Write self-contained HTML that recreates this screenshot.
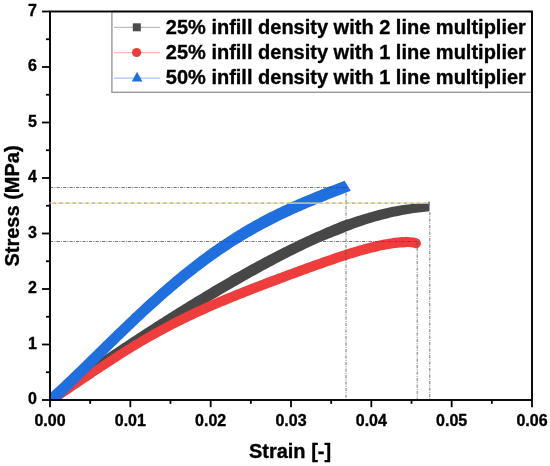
<!DOCTYPE html>
<html><head><meta charset="utf-8"><style>
html,body{margin:0;padding:0;background:#fff;}
svg{display:block;}
</style></head><body>
<svg width="550" height="466" viewBox="0 0 550 466" font-family="'Liberation Sans', Arial, Helvetica, sans-serif" fill="#000">
<style>text{stroke:#000;stroke-width:0.35px;}</style>
<rect width="550" height="466" fill="#fff"/>
<defs><clipPath id="pc"><rect x="50.0" y="11.5" width="482.0" height="388.5"/></clipPath></defs>
<g clip-path="url(#pc)" fill="none">
<path d="M40.00,401.54 L42.18,399.90 L44.35,398.27 L46.53,396.65 L48.70,395.03 L50.88,393.42 L53.06,391.81 L55.23,390.22 L57.41,388.63 L59.58,387.04 L61.76,385.47 L63.94,383.89 L66.11,382.33 L68.29,380.77 L70.46,379.21 L72.64,377.66 L74.82,376.12 L76.99,374.58 L79.17,373.05 L81.34,371.52 L83.52,370.00 L85.70,368.48 L87.87,366.97 L90.05,365.46 L92.22,363.95 L94.40,362.46 L96.58,360.96 L98.75,359.47 L100.93,357.99 L103.10,356.50 L105.28,355.03 L107.46,353.55 L109.63,352.08 L111.81,350.62 L113.98,349.16 L116.16,347.70 L118.34,346.25 L120.51,344.80 L122.69,343.35 L124.86,341.91 L127.04,340.47 L129.22,339.04 L131.39,337.61 L133.57,336.18 L135.74,334.76 L137.92,333.34 L140.09,331.92 L142.27,330.51 L144.45,329.10 L146.62,327.69 L148.80,326.29 L150.97,324.89 L153.15,323.49 L155.33,322.10 L157.50,320.71 L159.68,319.33 L161.85,317.94 L164.03,316.56 L166.21,315.19 L168.38,313.82 L170.56,312.45 L172.73,311.08 L174.91,309.72 L177.09,308.36 L179.26,307.00 L181.44,305.65 L183.61,304.30 L185.79,302.96 L187.97,301.62 L190.14,300.28 L192.32,298.95 L194.49,297.62 L196.67,296.29 L198.85,294.97 L201.02,293.65 L203.20,292.33 L205.37,291.02 L207.55,289.72 L209.73,288.41 L211.90,287.11 L214.08,285.82 L216.25,284.53 L218.43,283.24 L220.61,281.96 L222.78,280.68 L224.96,279.41 L227.13,278.14 L229.31,276.88 L231.49,275.62 L233.66,274.37 L235.84,273.12 L238.01,271.88 L240.19,270.64 L242.37,269.42 L244.54,268.21 L246.72,267.00 L248.89,265.80 L251.07,264.61 L253.25,263.42 L255.42,262.24 L257.60,261.06 L259.77,259.89 L261.95,258.73 L264.13,257.57 L266.30,256.42 L268.48,255.28 L270.65,254.14 L272.83,253.01 L275.01,251.89 L277.18,250.78 L279.36,249.67 L281.53,248.57 L283.71,247.48 L285.89,246.40 L288.06,245.32 L290.24,244.25 L292.41,243.19 L294.59,242.14 L296.77,241.10 L298.94,240.07 L301.12,239.04 L303.29,238.03 L305.47,237.02 L307.65,236.02 L309.82,235.03 L312.00,234.05 L314.17,233.08 L316.35,232.12 L318.53,231.17 L320.70,230.22 L322.88,229.24 L325.05,228.28 L327.23,227.33 L329.41,226.38 L331.58,225.45 L333.76,224.54 L335.93,223.63 L338.11,222.74 L340.28,221.87 L342.46,221.10 L344.64,220.35 L346.81,219.61 L348.99,218.89 L351.16,218.17 L353.34,217.48 L355.52,216.79 L357.69,216.12 L359.87,215.47 L362.04,214.78 L364.22,214.10 L366.40,213.44 L368.57,212.79 L370.75,212.16 L372.92,211.54 L375.10,210.94 L377.28,210.36 L379.45,209.80 L381.63,209.26 L383.80,208.75 L385.98,208.25 L388.16,207.77 L390.33,207.31 L392.51,206.87 L394.68,206.45 L396.86,206.05 L399.04,205.66 L401.21,205.31 L403.39,204.99 L405.56,204.69 L407.74,204.41 L409.92,204.15 L412.09,203.91 L414.27,203.70 L416.44,203.50 L418.62,203.33 L420.80,203.19 L422.97,203.08 L425.15,202.99 L427.32,202.92 L429.50,202.88 L429.50,211.28 L427.32,211.46 L425.15,211.66 L422.97,211.89 L420.80,212.14 L418.62,212.40 L416.44,212.68 L414.27,212.98 L412.09,213.31 L409.92,213.66 L407.74,214.02 L405.56,214.41 L403.39,214.82 L401.21,215.25 L399.04,215.69 L396.86,216.14 L394.68,216.61 L392.51,217.10 L390.33,217.60 L388.16,218.13 L385.98,218.67 L383.80,219.23 L381.63,219.81 L379.45,220.41 L377.28,221.00 L375.10,221.62 L372.92,222.25 L370.75,222.90 L368.57,223.56 L366.40,224.24 L364.22,224.94 L362.04,225.65 L359.87,226.38 L357.69,227.17 L355.52,227.99 L353.34,228.81 L351.16,229.65 L348.99,230.50 L346.81,231.37 L344.64,232.25 L342.46,233.14 L340.28,234.05 L338.11,234.88 L335.93,235.71 L333.76,236.55 L331.58,237.40 L329.41,238.27 L327.23,239.14 L325.05,240.03 L322.88,240.93 L320.70,241.84 L318.53,242.80 L316.35,243.78 L314.17,244.77 L312.00,245.77 L309.82,246.78 L307.65,247.80 L305.47,248.84 L303.29,249.88 L301.12,250.93 L298.94,251.99 L296.77,253.06 L294.59,254.14 L292.41,255.23 L290.24,256.32 L288.06,257.43 L285.89,258.54 L283.71,259.67 L281.53,260.80 L279.36,261.93 L277.18,263.08 L275.01,264.23 L272.83,265.39 L270.65,266.56 L268.48,267.73 L266.30,268.91 L264.13,270.10 L261.95,271.29 L259.77,272.49 L257.60,273.69 L255.42,274.90 L253.25,276.12 L251.07,277.34 L248.89,278.57 L246.72,279.80 L244.54,281.04 L242.37,282.29 L240.19,283.54 L238.01,284.78 L235.84,286.02 L233.66,287.27 L231.49,288.53 L229.31,289.79 L227.13,291.05 L224.96,292.32 L222.78,293.59 L220.61,294.87 L218.43,296.15 L216.25,297.44 L214.08,298.73 L211.90,300.03 L209.73,301.33 L207.55,302.63 L205.37,303.94 L203.20,305.25 L201.02,306.57 L198.85,307.89 L196.67,309.21 L194.49,310.54 L192.32,311.87 L190.14,313.21 L187.97,314.55 L185.79,315.89 L183.61,317.23 L181.44,318.58 L179.26,319.94 L177.09,321.29 L174.91,322.65 L172.73,324.02 L170.56,325.38 L168.38,326.75 L166.21,328.13 L164.03,329.50 L161.85,330.88 L159.68,332.27 L157.50,333.66 L155.33,335.05 L153.15,336.44 L150.97,337.84 L148.80,339.24 L146.62,340.64 L144.45,342.05 L142.27,343.46 L140.09,344.87 L137.92,346.29 L135.74,347.71 L133.57,349.14 L131.39,350.57 L129.22,352.00 L127.04,353.43 L124.86,354.87 L122.69,356.32 L120.51,357.76 L118.34,359.21 L116.16,360.67 L113.98,362.13 L111.81,363.59 L109.63,365.05 L107.46,366.52 L105.28,368.00 L103.10,369.48 L100.93,370.96 L98.75,372.45 L96.58,373.94 L94.40,375.43 L92.22,376.93 L90.05,378.44 L87.87,379.95 L85.70,381.46 L83.52,382.98 L81.34,384.50 L79.17,386.03 L76.99,387.57 L74.82,389.11 L72.64,390.65 L70.46,392.20 L68.29,393.76 L66.11,395.32 L63.94,396.89 L61.76,398.46 L59.58,400.04 L57.41,401.62 L55.23,403.22 L53.06,404.81 L50.88,406.42 L48.70,408.03 L46.53,409.65 L44.35,411.27 L42.18,412.90 L40.00,414.54 Z" fill="#474747"/>
<path d="M40.00,401.71 L42.31,400.36 L44.62,398.98 L46.92,397.58 L49.23,396.16 L51.54,394.72 L53.85,393.27 L56.16,391.79 L58.47,390.30 L60.77,388.80 L63.08,387.29 L65.39,385.76 L67.70,384.23 L70.01,382.68 L72.31,381.13 L74.62,379.58 L76.93,378.02 L79.24,376.45 L81.55,374.89 L83.86,373.32 L86.16,371.75 L88.47,370.19 L90.78,368.62 L93.09,367.06 L95.40,365.50 L97.70,363.95 L100.01,362.40 L102.32,360.85 L104.63,359.31 L106.94,357.78 L109.25,356.26 L111.55,354.74 L113.86,353.23 L116.17,351.73 L118.48,350.24 L120.79,348.76 L123.09,347.29 L125.40,345.84 L127.71,344.39 L130.02,342.95 L132.33,341.53 L134.64,340.11 L136.94,338.71 L139.25,337.33 L141.56,335.95 L143.87,334.59 L146.18,333.24 L148.48,331.90 L150.79,330.57 L153.10,329.26 L155.41,327.96 L157.72,326.68 L160.03,325.41 L162.33,324.15 L164.64,322.90 L166.95,321.67 L169.26,320.45 L171.57,319.24 L173.87,318.04 L176.18,316.86 L178.49,315.69 L180.80,314.53 L183.11,313.39 L185.42,312.25 L187.72,311.13 L190.03,310.02 L192.34,308.92 L194.65,307.83 L196.96,306.75 L199.26,305.68 L201.57,304.63 L203.88,303.58 L206.19,302.54 L208.50,301.52 L210.81,300.50 L213.11,299.49 L215.42,298.49 L217.73,297.50 L220.04,296.51 L222.35,295.54 L224.65,294.57 L226.96,293.61 L229.27,292.65 L231.58,291.70 L233.89,290.76 L236.19,289.83 L238.50,288.90 L240.81,287.98 L243.12,287.06 L245.43,286.14 L247.74,285.24 L250.04,284.33 L252.35,283.43 L254.66,282.54 L256.97,281.65 L259.28,280.76 L261.58,279.88 L263.89,279.00 L266.20,278.12 L268.51,277.24 L270.82,276.37 L273.13,275.50 L275.43,274.64 L277.74,273.77 L280.05,272.91 L282.36,272.05 L284.67,271.20 L286.97,270.34 L289.28,269.49 L291.59,268.64 L293.90,267.79 L296.21,266.94 L298.52,266.10 L300.82,265.26 L303.13,264.42 L305.44,263.58 L307.75,262.75 L310.06,261.92 L312.36,261.09 L314.67,260.27 L316.98,259.45 L319.29,258.63 L321.60,257.82 L323.91,257.01 L326.21,256.21 L328.52,255.42 L330.83,254.63 L333.14,253.84 L335.45,253.06 L337.75,252.29 L340.06,251.53 L342.37,250.78 L344.68,250.03 L346.99,249.30 L349.30,248.57 L351.60,247.86 L353.91,247.16 L356.22,246.47 L358.53,245.80 L360.84,245.14 L363.14,244.50 L365.45,243.87 L367.76,243.26 L370.07,242.67 L372.38,242.10 L374.69,241.55 L376.99,241.02 L379.30,240.52 L381.61,240.04 L383.92,239.59 L386.23,239.17 L388.53,238.77 L390.84,238.41 L393.15,238.08 L395.46,237.78 L397.77,237.52 L400.08,237.29 L402.38,237.10 L404.69,236.96 L407.00,236.86 L407.00,247.02 L404.69,247.14 L402.38,247.30 L400.08,247.50 L397.77,247.74 L395.46,248.02 L393.15,248.33 L390.84,248.68 L388.53,249.06 L386.23,249.47 L383.92,249.91 L381.61,250.37 L379.30,250.86 L376.99,251.38 L374.69,251.92 L372.38,252.48 L370.07,253.07 L367.76,253.67 L365.45,254.29 L363.14,254.93 L360.84,255.58 L358.53,256.26 L356.22,256.94 L353.91,257.64 L351.60,258.35 L349.30,259.08 L346.99,259.81 L344.68,260.56 L342.37,261.31 L340.06,262.08 L337.75,262.85 L335.45,263.63 L333.14,264.42 L330.83,265.21 L328.52,266.01 L326.21,266.82 L323.91,267.63 L321.60,268.45 L319.29,269.27 L316.98,270.09 L314.67,270.92 L312.36,271.75 L310.06,272.59 L307.75,273.43 L305.44,274.27 L303.13,275.11 L300.82,275.96 L298.52,276.81 L296.21,277.66 L293.90,278.51 L291.59,279.37 L289.28,280.22 L286.97,281.08 L284.67,281.94 L282.36,282.80 L280.05,283.67 L277.74,284.54 L275.43,285.41 L273.13,286.28 L270.82,287.15 L268.51,288.03 L266.20,288.91 L263.89,289.79 L261.58,290.67 L259.28,291.56 L256.97,292.45 L254.66,293.35 L252.35,294.24 L250.04,295.15 L247.74,296.05 L245.43,296.96 L243.12,297.88 L240.81,298.80 L238.50,299.73 L236.19,300.66 L233.89,301.59 L231.58,302.54 L229.27,303.49 L226.96,304.44 L224.65,305.40 L222.35,306.37 L220.04,307.35 L217.73,308.33 L215.42,309.33 L213.11,310.33 L210.81,311.34 L208.50,312.36 L206.19,313.38 L203.88,314.42 L201.57,315.47 L199.26,316.52 L196.96,317.59 L194.65,318.66 L192.34,319.75 L190.03,320.85 L187.72,321.96 L185.42,323.08 L183.11,324.21 L180.80,325.35 L178.49,326.51 L176.18,327.68 L173.87,328.86 L171.57,330.05 L169.26,331.25 L166.95,332.47 L164.64,333.70 L162.33,334.94 L160.03,336.20 L157.72,337.47 L155.41,338.75 L153.10,340.04 L150.79,341.35 L148.48,342.67 L146.18,344.00 L143.87,345.35 L141.56,346.70 L139.25,348.07 L136.94,349.45 L134.64,350.85 L132.33,352.26 L130.02,353.67 L127.71,355.10 L125.40,356.54 L123.09,358.00 L120.79,359.46 L118.48,360.93 L116.17,362.41 L113.86,363.90 L111.55,365.40 L109.25,366.91 L106.94,368.43 L104.63,369.95 L102.32,371.48 L100.01,373.01 L97.70,374.56 L95.40,376.10 L93.09,377.65 L90.78,379.20 L88.47,380.76 L86.16,382.32 L83.86,383.87 L81.55,385.43 L79.24,386.98 L76.93,388.54 L74.62,390.09 L72.31,391.63 L70.01,393.17 L67.70,394.70 L65.39,396.22 L63.08,397.74 L60.77,399.24 L58.47,400.73 L56.16,402.21 L53.85,403.67 L51.54,405.11 L49.23,406.54 L46.92,407.94 L44.62,409.33 L42.31,410.69 L40.00,412.02 Z" fill="#ef3c3c"/>
<path d="M402,242.23 Q412.00,241.36 416.00,243.30" stroke="#ef3c3c" stroke-width="9.9" stroke-linecap="round"/>
<path d="M40.00,402.11 L41.92,400.43 L43.83,398.73 L45.75,397.02 L47.66,395.30 L49.58,393.56 L51.49,391.81 L53.41,390.05 L55.33,388.28 L57.24,386.50 L59.16,384.71 L61.07,382.91 L62.99,381.10 L64.90,379.29 L66.82,377.47 L68.74,375.64 L70.65,373.80 L72.57,371.96 L74.48,370.11 L76.40,368.26 L78.31,366.40 L80.23,364.54 L82.15,362.68 L84.06,360.81 L85.98,358.94 L87.89,357.07 L89.81,355.19 L91.72,353.32 L93.64,351.44 L95.56,349.57 L97.47,347.69 L99.39,345.81 L101.30,343.94 L103.22,342.07 L105.13,340.19 L107.05,338.32 L108.97,336.45 L110.88,334.59 L112.80,332.73 L114.71,330.87 L116.63,329.01 L118.54,327.16 L120.46,325.32 L122.38,323.47 L124.29,321.64 L126.21,319.81 L128.12,317.98 L130.04,316.16 L131.95,314.35 L133.87,312.54 L135.79,310.74 L137.70,308.95 L139.62,307.17 L141.53,305.39 L143.45,303.62 L145.36,301.86 L147.28,300.11 L149.20,298.37 L151.11,296.63 L153.03,294.91 L154.94,293.19 L156.86,291.49 L158.77,289.79 L160.69,288.11 L162.61,286.43 L164.52,284.77 L166.44,283.12 L168.35,281.47 L170.27,279.84 L172.18,278.22 L174.10,276.61 L176.02,275.01 L177.93,273.43 L179.85,271.85 L181.76,270.29 L183.68,268.74 L185.59,267.20 L187.51,265.68 L189.43,264.16 L191.34,262.66 L193.26,261.18 L195.17,259.70 L197.09,258.24 L199.01,256.79 L200.92,255.35 L202.84,253.93 L204.75,252.52 L206.67,251.12 L208.58,249.74 L210.50,248.37 L212.42,247.01 L214.33,245.66 L216.25,244.33 L218.16,243.02 L220.08,241.71 L221.99,240.42 L223.91,239.14 L225.83,237.88 L227.74,236.63 L229.66,235.39 L231.57,234.17 L233.49,232.96 L235.40,231.76 L237.32,230.57 L239.24,229.40 L241.15,228.24 L243.07,227.10 L244.98,225.97 L246.90,224.85 L248.81,223.74 L250.73,222.64 L252.65,221.56 L254.56,220.49 L256.48,219.43 L258.39,218.39 L260.31,217.36 L262.22,216.34 L264.14,215.33 L266.06,214.33 L267.97,213.34 L269.89,212.37 L271.80,211.40 L273.72,210.45 L275.63,209.51 L277.55,208.58 L279.47,207.66 L281.38,206.75 L283.30,205.85 L285.21,204.96 L287.13,204.07 L289.04,203.20 L290.96,202.34 L292.88,201.49 L294.79,200.64 L296.71,199.81 L298.62,198.98 L300.54,198.16 L302.45,197.35 L304.37,196.54 L306.29,195.74 L308.20,194.95 L310.12,194.17 L312.03,193.39 L313.95,192.62 L315.86,191.85 L317.78,191.09 L319.70,190.34 L321.61,189.59 L323.53,188.84 L325.44,188.10 L327.36,187.36 L329.27,186.62 L331.19,185.89 L333.11,185.16 L335.02,184.43 L336.94,183.71 L338.85,182.98 L340.77,182.26 L342.68,181.54 L344.60,180.81 L350.80,190.67 L348.85,191.44 L346.89,192.20 L344.94,192.96 L342.98,193.73 L341.03,194.49 L339.07,195.25 L337.12,196.02 L335.16,196.78 L333.21,197.55 L331.25,198.32 L329.30,199.09 L327.34,199.87 L325.39,200.65 L323.43,201.43 L321.48,202.22 L319.52,203.01 L317.57,203.80 L315.62,204.61 L313.66,205.41 L311.71,206.23 L309.75,207.05 L307.80,207.87 L305.84,208.70 L303.89,209.54 L301.93,210.39 L299.98,211.25 L298.02,212.11 L296.07,212.98 L294.11,213.86 L292.16,214.75 L290.20,215.65 L288.25,216.56 L286.29,217.48 L284.34,218.40 L282.38,219.34 L280.43,220.29 L278.48,221.25 L276.52,222.22 L274.57,223.20 L272.61,224.19 L270.66,225.19 L268.70,226.21 L266.75,227.23 L264.79,228.27 L262.84,229.32 L260.88,230.38 L258.93,231.46 L256.97,232.54 L255.02,233.64 L253.06,234.75 L251.11,235.88 L249.15,237.02 L247.20,238.17 L245.25,239.33 L243.29,240.51 L241.34,241.70 L239.38,242.91 L237.43,244.12 L235.47,245.36 L233.52,246.60 L231.56,247.86 L229.61,249.13 L227.65,250.42 L225.70,251.72 L223.74,253.03 L221.79,254.36 L219.83,255.70 L217.88,257.06 L215.92,258.43 L213.97,259.81 L212.02,261.21 L210.06,262.62 L208.11,264.04 L206.15,265.48 L204.20,266.93 L202.24,268.40 L200.29,269.88 L198.33,271.37 L196.38,272.88 L194.42,274.40 L192.47,275.93 L190.51,277.48 L188.56,279.04 L186.60,280.61 L184.65,282.20 L182.69,283.79 L180.74,285.40 L178.78,287.03 L176.83,288.66 L174.88,290.31 L172.92,291.97 L170.97,293.64 L169.01,295.32 L167.06,297.02 L165.10,298.73 L163.15,300.44 L161.19,302.17 L159.24,303.91 L157.28,305.66 L155.33,307.42 L153.37,309.19 L151.42,310.97 L149.46,312.76 L147.51,314.56 L145.55,316.37 L143.60,318.18 L141.65,320.01 L139.69,321.84 L137.74,323.69 L135.78,325.54 L133.83,327.39 L131.87,329.26 L129.92,331.13 L127.96,333.01 L126.01,334.89 L124.05,336.78 L122.10,338.68 L120.14,340.58 L118.19,342.48 L116.23,344.40 L114.28,346.31 L112.32,348.23 L110.37,350.15 L108.42,352.08 L106.46,354.00 L104.51,355.93 L102.55,357.87 L100.60,359.80 L98.64,361.73 L96.69,363.67 L94.73,365.61 L92.78,367.54 L90.82,369.48 L88.87,371.41 L86.91,373.34 L84.96,375.27 L83.00,377.20 L81.05,379.12 L79.09,381.04 L77.14,382.96 L75.18,384.87 L73.23,386.78 L71.28,388.68 L69.32,390.58 L67.37,392.47 L65.41,394.35 L63.46,396.22 L61.50,398.09 L59.55,399.95 L57.59,401.79 L55.64,403.63 L53.68,405.46 L51.73,407.28 L49.77,409.08 L47.82,410.88 L45.86,412.66 L43.91,414.42 L41.95,416.18 L40.00,417.92 Z" fill="#1f6fde"/>
</g>
<g fill="none" stroke-width="0.75">
<line x1="50.0" y1="187.5" x2="347" y2="187.5" stroke="#4a4a4a" stroke-dasharray="3.2 1.2 0.9 1.2"/>
<line x1="346" y1="193" x2="346" y2="400.0" stroke="#4a4a4a" stroke-dasharray="3.2 1.2 0.9 1.2"/>
<line x1="50.0" y1="241.5" x2="417" y2="241.5" stroke="#4a4a4a" stroke-dasharray="3.2 1.2 0.9 1.2"/>
<line x1="417.2" y1="241.5" x2="417.2" y2="400.0" stroke="#4a4a4a" stroke-dasharray="3.2 1.2 0.9 1.2"/>
<line x1="51.0" y1="203.1" x2="429.5" y2="203.1" stroke="#efe36c" stroke-width="1.1"/>
<line x1="51.0" y1="203.1" x2="429.5" y2="203.1" stroke="#aca8f2" stroke-width="1.1" stroke-dasharray="3 3.5" stroke-dashoffset="-2"/>
<line x1="429.8" y1="212" x2="429.8" y2="400.0" stroke="#4a4a4a" stroke-dasharray="3.2 1.2 0.9 1.2"/>
<circle cx="429" cy="202.4" r="0.9" fill="#2f9a40"/><circle cx="428.9" cy="204.3" r="0.9" fill="#9040c0"/>
</g>
<rect x="111.9" y="11.5" width="420.1" height="80.8" fill="#fff" stroke="#9a9a9a" stroke-width="1.4"/>
<line x1="114" y1="27.3" x2="160" y2="27.3" stroke="#bcbcbc" stroke-width="1.2"/>
<rect x="132.8" y="23.3" width="8" height="8" fill="#4a4a4a"/>
<line x1="114" y1="52.7" x2="160" y2="52.7" stroke="#f9b8b8" stroke-width="1.3"/>
<circle cx="136.6" cy="52.5" r="4.6" fill="#ef3c3c"/>
<line x1="114" y1="78.2" x2="160" y2="78.2" stroke="#a4c4f6" stroke-width="1.2"/>
<path d="M137.1,71.8 L142.4,81.5 L131.8,81.5 Z" fill="#1f6fde"/>
<text x="165.8" y="33.9" font-size="20" font-weight="bold">25% infill density with 2 line multiplier</text>
<text x="165.8" y="59.1" font-size="20" font-weight="bold">25% infill density with 1 line multiplier</text>
<text x="165.8" y="84.4" font-size="20" font-weight="bold">50% infill density with 1 line multiplier</text>
<rect x="50.0" y="11.5" width="482.0" height="388.5" fill="none" stroke="#000" stroke-width="1.9"/>
<rect x="49.3" y="202" width="1.6" height="2.2" fill="#c060d8" opacity="0.8"/>
<line x1="42" y1="400.00" x2="50.0" y2="400.00" stroke="#000" stroke-width="1.8"/>
<text x="36.8" y="404.30" font-size="16" font-weight="bold" text-anchor="end">0</text>
<line x1="46" y1="372.25" x2="50.0" y2="372.25" stroke="#000" stroke-width="1.8"/>
<line x1="42" y1="344.50" x2="50.0" y2="344.50" stroke="#000" stroke-width="1.8"/>
<text x="36.8" y="348.80" font-size="16" font-weight="bold" text-anchor="end">1</text>
<line x1="46" y1="316.75" x2="50.0" y2="316.75" stroke="#000" stroke-width="1.8"/>
<line x1="42" y1="289.00" x2="50.0" y2="289.00" stroke="#000" stroke-width="1.8"/>
<text x="36.8" y="293.30" font-size="16" font-weight="bold" text-anchor="end">2</text>
<line x1="46" y1="261.25" x2="50.0" y2="261.25" stroke="#000" stroke-width="1.8"/>
<line x1="42" y1="233.50" x2="50.0" y2="233.50" stroke="#000" stroke-width="1.8"/>
<text x="36.8" y="237.80" font-size="16" font-weight="bold" text-anchor="end">3</text>
<line x1="46" y1="205.75" x2="50.0" y2="205.75" stroke="#000" stroke-width="1.8"/>
<line x1="42" y1="178.00" x2="50.0" y2="178.00" stroke="#000" stroke-width="1.8"/>
<text x="36.8" y="182.30" font-size="16" font-weight="bold" text-anchor="end">4</text>
<line x1="46" y1="150.25" x2="50.0" y2="150.25" stroke="#000" stroke-width="1.8"/>
<line x1="42" y1="122.50" x2="50.0" y2="122.50" stroke="#000" stroke-width="1.8"/>
<text x="36.8" y="126.80" font-size="16" font-weight="bold" text-anchor="end">5</text>
<line x1="46" y1="94.75" x2="50.0" y2="94.75" stroke="#000" stroke-width="1.8"/>
<line x1="42" y1="67.00" x2="50.0" y2="67.00" stroke="#000" stroke-width="1.8"/>
<text x="36.8" y="71.30" font-size="16" font-weight="bold" text-anchor="end">6</text>
<line x1="46" y1="39.25" x2="50.0" y2="39.25" stroke="#000" stroke-width="1.8"/>
<line x1="42" y1="11.50" x2="50.0" y2="11.50" stroke="#000" stroke-width="1.8"/>
<text x="36.8" y="15.80" font-size="16" font-weight="bold" text-anchor="end">7</text>
<line x1="50.00" y1="400.0" x2="50.00" y2="407.2" stroke="#000" stroke-width="1.8"/>
<text x="50.00" y="425.6" font-size="16" font-weight="bold" text-anchor="middle">0.00</text>
<line x1="90.17" y1="400.0" x2="90.17" y2="403.8" stroke="#000" stroke-width="1.8"/>
<line x1="130.33" y1="400.0" x2="130.33" y2="407.2" stroke="#000" stroke-width="1.8"/>
<text x="130.33" y="425.6" font-size="16" font-weight="bold" text-anchor="middle">0.01</text>
<line x1="170.50" y1="400.0" x2="170.50" y2="403.8" stroke="#000" stroke-width="1.8"/>
<line x1="210.67" y1="400.0" x2="210.67" y2="407.2" stroke="#000" stroke-width="1.8"/>
<text x="210.67" y="425.6" font-size="16" font-weight="bold" text-anchor="middle">0.02</text>
<line x1="250.83" y1="400.0" x2="250.83" y2="403.8" stroke="#000" stroke-width="1.8"/>
<line x1="291.00" y1="400.0" x2="291.00" y2="407.2" stroke="#000" stroke-width="1.8"/>
<text x="291.00" y="425.6" font-size="16" font-weight="bold" text-anchor="middle">0.03</text>
<line x1="331.17" y1="400.0" x2="331.17" y2="403.8" stroke="#000" stroke-width="1.8"/>
<line x1="371.33" y1="400.0" x2="371.33" y2="407.2" stroke="#000" stroke-width="1.8"/>
<text x="371.33" y="425.6" font-size="16" font-weight="bold" text-anchor="middle">0.04</text>
<line x1="411.50" y1="400.0" x2="411.50" y2="403.8" stroke="#000" stroke-width="1.8"/>
<line x1="451.67" y1="400.0" x2="451.67" y2="407.2" stroke="#000" stroke-width="1.8"/>
<text x="451.67" y="425.6" font-size="16" font-weight="bold" text-anchor="middle">0.05</text>
<line x1="491.83" y1="400.0" x2="491.83" y2="403.8" stroke="#000" stroke-width="1.8"/>
<line x1="532.00" y1="400.0" x2="532.00" y2="407.2" stroke="#000" stroke-width="1.8"/>
<text x="532.00" y="425.6" font-size="16" font-weight="bold" text-anchor="middle">0.06</text>
<text x="290" y="457.7" font-size="20" font-weight="bold" text-anchor="middle">Strain [-]</text>
<text transform="translate(19.3,206) rotate(-90)" font-size="20" font-weight="bold" text-anchor="middle">Stress (MPa)</text>
</svg>
</body></html>
